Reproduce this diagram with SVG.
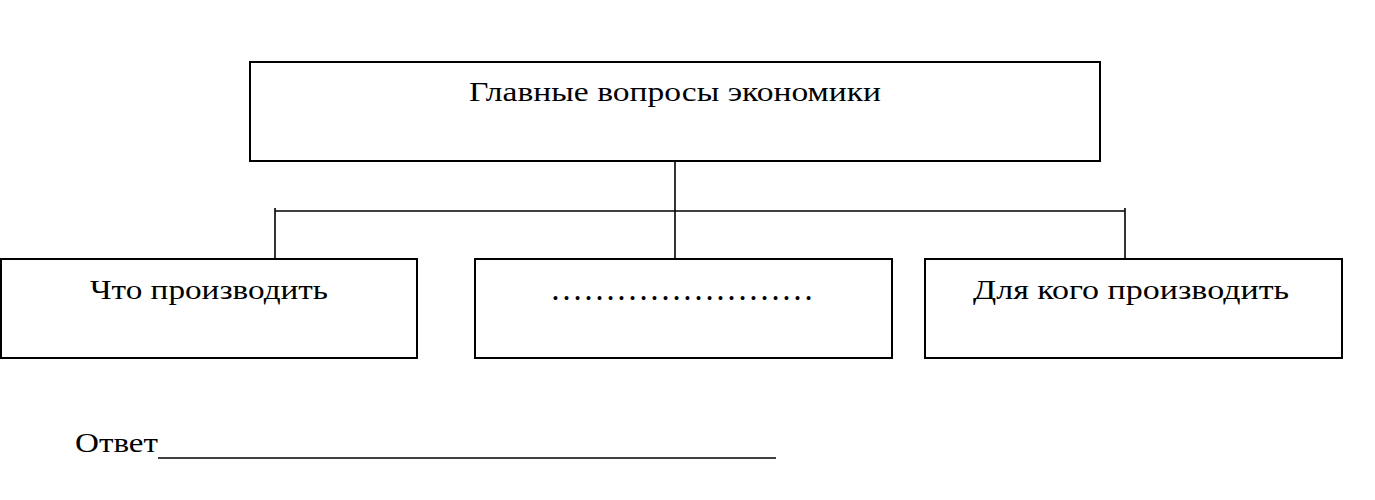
<svg xmlns="http://www.w3.org/2000/svg" width="1375" height="500" viewBox="0 0 1375 500">
<style>
.box{fill:#fff;stroke:#000;stroke-width:2}
.t{font-family:"Liberation Serif","Times New Roman",serif;font-size:28px;fill:#000;text-anchor:middle}
.c{fill:none;stroke:#000;stroke-width:1.6}
</style>
<rect width="1375" height="500" fill="#fff"/>
<g id="connectors">
<line class="c" x1="675" y1="162" x2="675" y2="259"/>
<line class="c" x1="275" y1="211" x2="1125" y2="211"/>
<line class="c" x1="275" y1="208" x2="275" y2="259"/>
<line class="c" x1="1125" y1="208" x2="1125" y2="259"/>
</g>
<g id="main">
<rect class="box" x="250" y="62" width="850" height="99"/>
<text class="t" x="675" y="101" textLength="412" lengthAdjust="spacingAndGlyphs">Главные вопросы экономики</text>
</g>
<g id="what">
<rect class="box" x="1" y="259" width="416" height="99"/>
<text class="t" x="209" y="299" textLength="238" lengthAdjust="spacingAndGlyphs">Что производить</text>
</g>
<g id="how">
<rect class="box" x="475" y="259" width="417" height="99"/>
<text class="t" x="682" y="300" style="font-size:33px" textLength="264" lengthAdjust="spacingAndGlyphs">……………………</text>
</g>
<g id="whom">
<rect class="box" x="925" y="259" width="417" height="99"/>
<text class="t" x="1131" y="299" textLength="316" lengthAdjust="spacingAndGlyphs">Для кого производить</text>
</g>
<g id="answer">
<text class="t" x="75" y="452" style="text-anchor:start" textLength="83" lengthAdjust="spacingAndGlyphs">Ответ</text>
<line x1="158" y1="458" x2="776" y2="458" stroke="#000" stroke-width="1.5"/>
</g>
</svg>
